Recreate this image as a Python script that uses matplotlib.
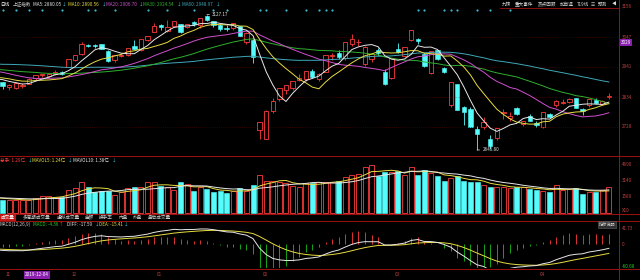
import numpy as np
import pandas as pd
import matplotlib
matplotlib.use("Agg")
import matplotlib.pyplot as plt
from matplotlib.patches import Rectangle

plt.rcParams['font.family'] = ['Noto Sans CJK SC', 'DejaVu Sans']

W, H = 640, 280

# closes before the visible window (only used to warm up MA / MACD)
prior_close = [2886, 2924, 2930, 2957, 2985, 2999, 3024, 3021, 3008, 3031,
               3030, 2978, 2985, 2999, 3006, 2977, 2985, 2955, 2929, 2932,
               2905, 2913, 2924, 2947, 2973, 3008, 2991, 2978, 2977, 2938,
               2939, 2954, 2941, 2940, 2954, 2980, 2954, 2939, 2929, 2958,
               2975, 2991, 2978, 2978, 2964, 2909, 2914, 2905, 2909, 2891,
               2909, 2933, 2911, 2903, 2885, 2907, 2907, 2903]
prior_vol = [1500] * len(prior_close)

# daily candles, 2019-11-28 .. 2020-04-17
opens = [2901, 2886, 2869, 2867, 2874, 2882, 2900, 2912, 2908, 2917,
         2924, 2942, 2966, 2987, 3020, 3019, 3022, 2998, 2964, 2980,
         2982, 3015, 3001, 3037, 3066, 3089, 3070, 3085, 3094, 3082,
         3099, 3091, 3123, 3103, 3091, 3081, 3080, 3085, 3030, 3037,
         2716.7, 2685.27, 2783, 2827, 2860, 2865, 2894, 2897, 2926, 2899,
         2924, 2979, 2989, 2974, 3022, 3030, 2951, 2970, 3000, 2924,
         2900, 3006, 2981, 3036, 3039, 2987, 2918, 3001, 2936, 2805,
         2880, 2798, 2790, 2722, 2729, 2686, 2690, 2777, 2758, 2795,
         2739, 2767, 2743, 2726, 2773, 2806, 2813, 2818, 2830, 2790,
         2806, 2825, 2810, 2833]
highs = [2904, 2888, 2880, 2886, 2884, 2901, 2913, 2917, 2920, 2929,
         2925, 2968, 2985, 3029, 3024, 3021, 3024, 3000, 2983, 2987,
         3008, 3036, 3041, 3051, 3098, 3093, 3107, 3105, 3095, 3095,
         3105, 3116, 3127.17, 3106, 3095, 3091, 3096, 3086, 3064, 3042,
         2746.61, 2787, 2830, 2867, 2876, 2891, 2916, 2927, 2935, 2918,
         2984, 2990, 3000, 3031, 3058, 3042, 3014, 2990, 3010, 2932,
         2972, 3026, 3012, 3072, 3045, 2990, 2997, 3002, 2940, 2888,
         2882, 2801, 2800, 2730, 2764, 2699, 2723, 2790, 2780, 2797,
         2750, 2772, 2750, 2781, 2776, 2822, 2827, 2830, 2832, 2795,
         2828, 2830, 2822, 2848]
lows = [2886, 2863, 2860, 2864, 2867, 2879, 2893, 2905, 2905, 2912,
        2912, 2940, 2962, 2984, 3012, 3010, 3003, 2960, 2960, 2975,
        2981, 3003, 2997, 3032, 3066, 3074, 3065, 3084, 3060, 3081,
        3086, 3081, 3103, 3083, 3070, 3070, 3073, 3051, 3023, 2956,
        2685.27, 2685, 2777, 2821, 2846, 2860, 2890, 2892, 2900, 2890,
        2923, 2966, 2970, 2966, 3016, 3016, 2945, 2960, 2980, 2878,
        2897, 2990, 2975, 3034, 3022, 2941, 2917, 2966, 2918, 2799,
        2788, 2734, 2727, 2645.80, 2720, 2649, 2681, 2757, 2750, 2770,
        2730, 2747, 2729, 2724, 2760, 2800, 2810, 2812, 2795, 2771,
        2800, 2808, 2805, 2826]
closes = [2889.69, 2871.98, 2875.81, 2884.70, 2878.12, 2899.47, 2912.01, 2914.48, 2917.32, 2924.42,
          2915.70, 2967.68, 2984.39, 3022.42, 3017.04, 3017.07, 3004.94, 2962.75, 2982.68, 2981.88,
          3007.35, 3005.04, 3040.02, 3050.12, 3085.20, 3083.79, 3083.41, 3104.80, 3066.89, 3094.88,
          3092.29, 3115.57, 3106.82, 3090.04, 3074.08, 3075.50, 3095.79, 3052.14, 3060.75, 2976.53,
          2746.61, 2783.29, 2818.09, 2866.51, 2875.96, 2890.49, 2901.67, 2926.90, 2906.07, 2917.01,
          2983.62, 2984.97, 2975.40, 3030.15, 3039.67, 3031.23, 3013.05, 2987.93, 2991.33, 2880.30,
          2970.93, 2992.90, 3011.67, 3071.68, 3034.51, 2943.29, 2996.76, 2968.52, 2923.49, 2887.43,
          2789.25, 2779.64, 2728.76, 2702.13, 2745.62, 2660.17, 2722.44, 2781.59, 2764.91, 2772.20,
          2747.21, 2750.30, 2734.52, 2780.64, 2763.99, 2820.76, 2815.37, 2825.90, 2796.63, 2783.05,
          2827.28, 2811.17, 2819.94, 2838.49]
volumes = [1400, 1260, 1260, 1260, 1290, 1260, 1450, 1650, 1650, 1550,
           1550, 2230, 2420, 3000, 2520, 2040, 2130, 2130, 1750, 2040,
           2420, 2520, 2520, 3000, 3000, 2620, 2520, 2230, 3000, 2810,
           2130, 2520, 2330, 2040, 2130, 1940, 2130, 2420, 2130, 2720,
           3690, 3100, 3100, 3000, 2910, 2620, 2520, 2910, 2910, 3000,
           3040, 3040, 3130, 3490, 3690, 3780, 4460, 4660, 3590, 4000,
           4000, 4100, 3690, 4490, 3690, 4170, 3910, 3590, 3130, 3360,
           3590, 3130, 2970, 3040, 2720, 2550, 2550, 2550, 2390, 2490,
           2490, 2300, 2230, 2170, 2070, 2720, 2230, 2300, 2390, 1840,
           2070, 2070, 2230, 2490]

event_idx = [1, 3, 5, 7, 10, 14, 15, 18, 23, 26, 30, 33, 35, 40, 41, 44, 47,
             49, 50, 51, 64, 65, 68, 69, 70, 73, 75, 78]
month_labels = ['11', '12', '01', '02', '03', '04']
month_idx = [1, 11, 24, 40, 60, 82]
price_ticks = [3156, 3047, 2941, 2834, 2728]
vol_ticks = [4690, 3140, 1589]

RED = '#ff3b3b'
CYAN = '#54fcfc'
GRID = '#5a0000'
AXC = '#a01010'
LBL = '#c04040'
FS = 3.3

n = len(closes)
allc = pd.Series(prior_close + closes)
allv = pd.Series(prior_vol + volumes)
k = len(prior_close)
ma = {p: allc.rolling(p, min_periods=1).mean().values[k:] for p in (5, 10, 20, 30, 60)}
mavol5 = allv.rolling(5, min_periods=1).mean().values[k:]
mavol10 = allv.rolling(10, min_periods=1).mean().values[k:]
ema12 = allc.ewm(span=12, adjust=False).mean()
ema26 = allc.ewm(span=26, adjust=False).mean()
diff = ema12 - ema26
dea = diff.ewm(span=9, adjust=False).mean()
macd = (2 * (diff - dea)).values[k:]
diff = diff.values[k:]
dea = dea.values[k:]

fig = plt.figure(figsize=(W / 100, H / 100), dpi=100, facecolor='black')

# pixel -> candle index: x = -4 + 6.59 * i
X0, DX = -4.0, 6.59
XR = 619
xlim = ((0 - X0) / DX, (XR - X0) / DX)


def pax(y0, y1, ylo, yhi):
    ax = fig.add_axes([0, 1 - y1 / H, XR / W, (y1 - y0) / H])
    ax.set_facecolor('black')
    ax.set_xlim(*xlim)
    ax.set_ylim(ylo, yhi)
    ax.axis('off')
    return ax


def py(y, y_ref, v_ref, per_px):
    return v_ref - (y - y_ref) * per_px


def txt(x, y, s, c, fs=FS, **kw):
    fig.text(x / W, 1 - y / H, s, color=c, fontsize=fs, va='center', **kw)


# ---------------- price panel ----------------
PPX = 3.555
ax = pax(0, 154, py(154, 37.1, 3047, PPX), py(0, 37.1, 3047, PPX))
for t in price_ticks[1:]:
    ax.axhline(t, color=GRID, lw=0.5, ls=(0, (1, 2)))
idx = np.arange(n)
bw = 0.66
for i in range(n):
    o, h, l, c = opens[i], highs[i], lows[i], closes[i]
    top, bot = max(o, c), min(o, c)
    if c >= o:
        ax.add_patch(Rectangle((i - bw / 2, bot), bw, max(top - bot, 0.8),
                               facecolor='black', edgecolor=RED, lw=0.6))
        ax.vlines(i, top, h, color=RED, lw=0.6)
        ax.vlines(i, l, bot, color=RED, lw=0.6)
    else:
        ax.add_patch(Rectangle((i - bw / 2, bot), bw, top - bot,
                               facecolor=CYAN, edgecolor=CYAN, lw=0.4))
        ax.vlines(i, l, h, color=CYAN, lw=0.6)
ma_cols = {5: '#e8e8e8', 10: '#e8dc40', 20: '#d050d0', 30: '#2eb02e', 60: '#3fa8b8'}
for p in (60, 30, 20, 10, 5):
    ax.plot(idx, ma[p], color=ma_cols[p], lw=0.7)
ax.scatter(event_idx, [py(9.5, 37.1, 3047, PPX)] * len(event_idx), s=2.5, color='#3fb8d0', lw=0)
imax = int(np.argmax(highs))
imin = int(np.argmin(lows))
ax.annotate(f'{highs[imax]:.2f}', (imax, highs[imax]), xytext=(imax + 0.8, highs[imax]),
            color='#e0e0e0', fontsize=FS, va='center',
            arrowprops=dict(arrowstyle='-', color='#e0e0e0', lw=0.5))
ax.annotate(f'{lows[imin]:.2f}', (imin, lows[imin]), xytext=(imin + 0.8, lows[imin]),
            color='#e0e0e0', fontsize=FS, va='center',
            arrowprops=dict(arrowstyle='-', color='#e0e0e0', lw=0.5))
yt = ax.get_yaxis_transform()
for t in price_ticks:
    ax.text(1.005, t, str(t), transform=yt, color=LBL, fontsize=FS, va='center', clip_on=False)
ax.text(1.003, 3029, '3029', transform=yt, color='white', fontsize=FS, va='center',
        clip_on=False, bbox=dict(boxstyle='square,pad=0.25', fc='#8a1fb0', ec='none'))

# header line
items = [('日线', 0, '#ffffff'), ('上证指数', 13, '#c8c8c8'),
         ('MA5: 2880.05', 33, ma_cols[5]), ('MA10: 2890.56', 68, ma_cols[10]),
         ('MA20: 2906.70', 106, ma_cols[20]), ('MA30: 2924.54', 143, ma_cols[30]),
         ('MA60: 2948.97', 182, ma_cols[60])]
for s, x, c in items:
    txt(x, 4, s, c)
for x in (62, 102, 139, 177, 216):
    txt(x, 4, '↓', '#40d0e0')
for s, x in [('九转', 502), ('重大事件', 515), ('热点回顾', 538), ('加自选', 560),
             ('719线', 577), ('☰', 591), ('预测', 598)]:
    txt(x, 4, s, '#d8d8d8')
txt(612, 4, '◀', '#d8d8d8')

# ---------------- volume panel ----------------
VPX = 97.0
av = pax(157, 213.5, py(213.5, 213.0, 0, VPX), py(157, 213.0, 0, VPX))
vw = 0.76
for i in range(n):
    if closes[i] >= opens[i]:
        av.add_patch(Rectangle((i - vw / 2, 0), vw, volumes[i], facecolor='black',
                               edgecolor=RED, lw=0.6))
    else:
        av.add_patch(Rectangle((i - vw / 2, 0), vw, volumes[i], facecolor=CYAN,
                               edgecolor=CYAN, lw=0.4))
av.plot(idx, mavol5, color='#e8dc40', lw=0.7)
av.plot(idx, mavol10, color='#e8e8e8', lw=0.7)
yt = av.get_yaxis_transform()
for t in vol_ticks:
    av.text(1.005, t, str(t), transform=yt, color=LBL, fontsize=FS, va='center', clip_on=False)
txt(622, 211, 'X10', LBL)
for s, x, c in [('总手: 1.29亿', 0, '#ff4040'), ('MAVOL5: 1.24亿', 32, '#e8dc40'),
                ('MAVOL10: 1.38亿', 73, '#e8e8e8')]:
    txt(x, 160, s, c)
for x in (28, 68, 112):
    txt(x, 160, '↓', '#40d0e0')

# tabs
txt(1, 217.5, '成交量', 'white', bbox=dict(boxstyle='square,pad=0.3', fc='#c01818', ec='none'))
for s, x in [('多周期成交量', 23), ('虚拟成交量', 57), ('金额', 85), ('换手率', 99),
             ('内盘', 119), ('外盘', 133), ('盘后成交量', 148)]:
    txt(x, 217.5, s, '#d0d0d0')

# ---------------- MACD panel ----------------
MPX = 2.72
am = pax(228, 268, py(268, 244.3, 0, MPX), py(228, 244.3, 0, MPX))
am.vlines(idx, 0, macd, colors=[RED if m >= 0 else '#18c018' for m in macd], lw=0.6)
am.plot(idx, dea, color='#e8dc40', lw=0.7)
am.plot(idx, diff, color='#e8e8e8', lw=0.7)
yt = am.get_yaxis_transform()
am.text(1.005, 41.73, '41.73', transform=yt, color=LBL, fontsize=FS, va='center', clip_on=False)
am.text(1.005, 0, '0', transform=yt, color=LBL, fontsize=FS, va='center', clip_on=False)
am.text(1.005, -60.68, '-60.68', transform=yt, color='#20d020', fontsize=FS, va='center', clip_on=False)
for s, x, c in [('MACD(12,26,9)', 0, '#d0d0d0'), ('MACD: -4.36', 33, '#20d020'),
                ('DIFF: -17.59', 67, '#e8e8e8'), ('DEA: -15.41', 99, '#e8dc40')]:
    txt(x, 224.5, s, c)
txt(59, 224.5, '↑', '#ff4040')
txt(95, 224.5, '↓', '#40d0e0')
txt(124, 224.5, '↓', '#40d0e0')
txt(599, 224.5, '指标说明', '#d0d0d0', fs=3.0,
    bbox=dict(boxstyle='square,pad=0.2', fc='#303030', ec='#606060', lw=0.4))

# ---------------- separators / date axis ----------------
base = fig.add_axes([0, 0, 1, 1], facecolor='none')
base.set_xlim(0, W)
base.set_ylim(H, 0)
base.axis('off')
for y in (155.5, 213.5, 221, 268.5):
    base.axhline(y, color=AXC, lw=0.7)
base.axvline(XR, color=AXC, lw=0.7)
base.plot([500, XR], [8, 8], color=AXC, lw=0.6)
for s, i in zip(month_labels, month_idx):
    base.text(X0 + DX * i + 3, 275, s, color=LBL, fontsize=FS, va='center')
base.text(25, 275, '2019-12-04', color='white', fontsize=FS, va='center',
          bbox=dict(boxstyle='square,pad=0.25', fc='#8a1fb0', ec='none'))

fig.savefig('out.png', dpi=100, facecolor='black')
